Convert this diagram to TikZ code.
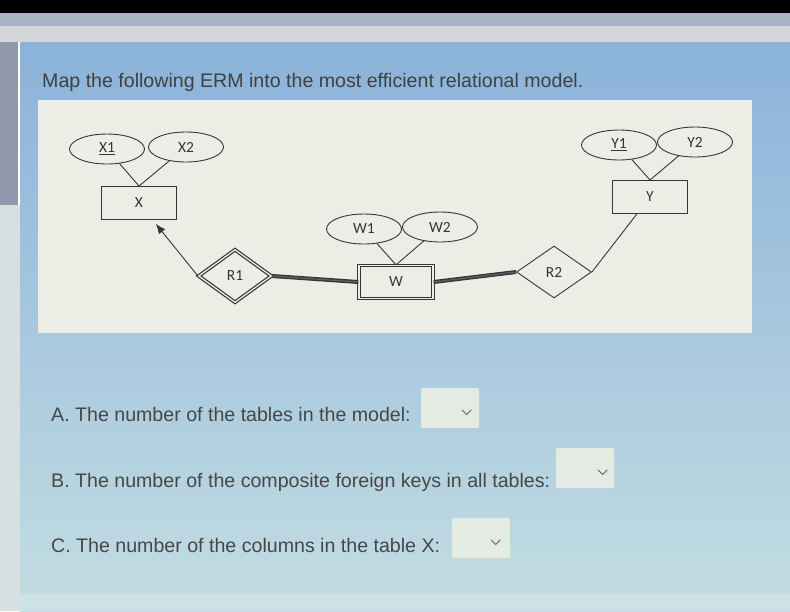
\documentclass[tikz,border=0pt]{standalone}
\usepackage{fontspec}
\setmainfont{Liberation Sans}
\newfontfamily\diafont{Carlito}
\usetikzlibrary{shapes.geometric,arrows.meta}
\definecolor{topband}{HTML}{A7B2C6}
\definecolor{lightband}{HTML}{D3D6DA}
\definecolor{sidegray}{HTML}{9099AB}
\definecolor{sidelight}{HTML}{D8DFE0}
\definecolor{paneltop}{HTML}{8BB2DA}
\definecolor{panelmid}{HTML}{A7C9DF}
\definecolor{panelbot}{HTML}{C3DDE2}
\definecolor{diagbg}{HTML}{ECEEE6}
\definecolor{dropbox}{HTML}{E3EBE2}
\definecolor{ink}{HTML}{363636}
\tikzstyle{attr} = [draw=ink, line width=0.9pt, ellipse, minimum width=75pt, minimum height=30pt, inner sep=0pt, text=ink, font={\diafont\fontsize{15.5}{18}\selectfont}]
\tikzstyle{entity} = [draw=ink, line width=0.9pt, rectangle, minimum width=75pt, minimum height=33pt, inner sep=0pt, text=ink, font={\diafont\fontsize{15.5}{18}\selectfont}]
\tikzstyle{weak} = [entity, line width=1.3pt, double=diagbg, double distance=1.3pt, minimum width=74pt]
\tikzstyle{rel} = [draw=ink, line width=0.9pt, diamond, minimum width=75pt, minimum height=53pt, inner sep=0pt, text=ink, font={\diafont\fontsize{15.5}{18}\selectfont}]
\tikzstyle{ident} = [rel, line width=1.2pt, double=diagbg, double distance=1.3pt, minimum width=73pt]
\tikzstyle{link} = [draw=ink, line width=0.9pt]
\tikzstyle{total} = [draw=ink, line width=1.4pt, double=black!62, double distance=1.2pt]
\tikzstyle{question} = [anchor=base west, inner sep=0pt, text=black!72, font={\fontsize{19.6}{24}\selectfont}]
\tikzstyle{select} = [fill=dropbox, rounded corners=2pt, minimum width=58pt, minimum height=40pt, inner sep=0pt]
\tikzstyle{chevron} = [draw=black!55, line width=1.1pt, line cap=round, line join=round]

\begin{document}
\begin{tikzpicture}[x=1pt, y=-1pt]
  \useasboundingbox (0,0) rectangle (790,611);
  \fill[black] (0,0) rectangle (790,13);
  \fill[topband] (0,13) rectangle (790,26);
  \fill[lightband] (0,26) rectangle (790,42);
  \fill[sidegray] (0,42) rectangle (18,205);
  \fill[sidelight] (0,205) rectangle (20,611);
  \shade[top color=paneltop, middle color=panelmid, bottom color=panelbot] (20,42) rectangle (790,611);
  \fill[panelbot!85!white] (20,594) rectangle (790,611);
  \fill[diagbg] (38,100) rectangle (752,333);

  \node[question, font={\fontsize{19.6}{23}\selectfont}, text=black!75](title) at (42,87){Map the following ERM into the most efficient relational model.};

  \node[attr](X1) at (107,149){\underline{X1}};
  \node[attr](X2) at (186,147){X2};
  \node[entity](X) at (139,203){X};
  \node[attr](W1) at (364,229){W1};
  \node[attr](W2) at (440,227){W2};
  \node[weak](W) at (396,282){W};
  \node[attr](Y1) at (619,145){\underline{Y1}};
  \node[attr](Y2) at (695,142){Y2};
  \node[entity](Y) at (650,197){Y};
  \node[ident](R1) at (235,276){R1};
  \node[rel, minimum height=52pt](R2) at (554,272){R2};
  \draw[link](X1)--(X.north);
  \draw[link](X2)--(X.north);
  \draw[link](W1)--(W.north);
  \draw[link](W2)--(W.north);
  \draw[link](Y1)--(Y.north);
  \draw[link](Y2)--(Y.north);
  \draw[link,-{Latex[length=10pt,width=8pt]},shorten >=5pt](R1.west)--(X);
  \draw[total](R1.east)--(W.west);
  \draw[total](W.east)--(R2.west);
  \draw[link](R2.east)--(Y);

  \node[question](qa) at (51,421){A. The number of the tables in the model:};
  \node[question](qb) at (51,487){B. The number of the composite foreign keys in all tables:};
  \node[question](qc) at (51,552){C. The number of the columns in the table X:};
  \node[select](sa) at (450,408){};
  \node[select](sb) at (585,468){};
  \node[select](sc) at (481,538){};
  \draw[chevron] ([xshift=-17pt,yshift=-2pt]sa.east) -- ++(4.5,4.5) -- ++(4.5,-4.5);
  \draw[chevron] ([xshift=-16pt,yshift=-2pt]sb.east) -- ++(4.5,4.5) -- ++(4.5,-4.5);
  \draw[chevron] ([xshift=-19pt,yshift=-2pt]sc.east) -- ++(4.5,4.5) -- ++(4.5,-4.5);
\end{tikzpicture}
\end{document}
